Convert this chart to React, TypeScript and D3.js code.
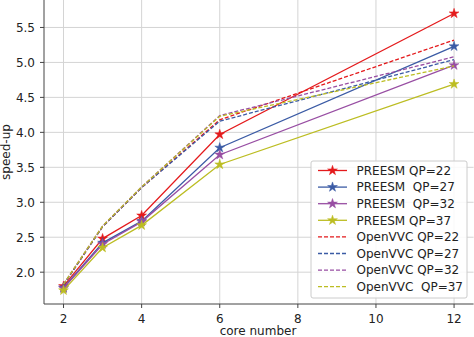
import React from "react";
import * as d3 from "d3";

const cores = [2, 3, 4, 6, 12];
const preesm22 = [1.80, 2.48, 2.81, 3.97, 5.70];
const preesm27 = [1.78, 2.42, 2.73, 3.78, 5.23];
const preesm32 = [1.77, 2.40, 2.72, 3.68, 4.96];
const preesm37 = [1.74, 2.35, 2.67, 3.54, 4.69];
const openvvc22 = [1.82, 2.65, 3.21, 4.18, 5.32];
const openvvc27 = [1.82, 2.65, 3.21, 4.16, 5.04];
const openvvc32 = [1.83, 2.66, 3.22, 4.24, 5.08];
const openvvc37 = [1.83, 2.66, 3.22, 4.23, 4.95];
const xTicks = [2, 4, 6, 8, 10, 12];
const yTicks = [2.0, 2.5, 3.0, 3.5, 4.0, 4.5, 5.0, 5.5];
const seriesNames = [
  "PREESM QP=22",
  "PREESM  QP=27",
  "PREESM  QP=32",
  "PREESM QP=37",
  "OpenVVC QP=22",
  "OpenVVC QP=27",
  "OpenVVC QP=32",
  "OpenVVC  QP=37",
];
const colors = ["#e41a1c", "#3b5ba5", "#984ea3", "#bcbd22"];

export default function App() {
  const W = 474, H = 337;
  const left = 44, right = 473.6, top = -0.5, bottom = 304;
  const x = d3.scaleLinear().domain([1.5, 12.5]).range([left, right]);
  const y = d3.scaleLinear().domain([1.545, 5.9]).range([bottom, top]);
  const line = d3.line<number>().x((_, i) => x(cores[i])).y((d) => y(d));
  const star = d3.symbol().type(d3.symbolStar).size(30)()!;
  const solid = [preesm22, preesm27, preesm32, preesm37];
  const dashed = [openvvc22, openvvc27, openvvc32, openvvc37];
  const font = "DejaVu Sans, sans-serif";
  const fs = 12;
  const lx = 311, ly = 161, lw = 156, lh = 137, rowH = 16.6;

  return (
    <svg width={W} height={H} style={{ position: "absolute", left: 0, top: 0, background: "#fff" }} fontFamily={font}>
      {xTicks.map((t) => (
        <line key={"gx" + t} x1={x(t)} x2={x(t)} y1={top} y2={bottom} stroke="#d4d4d4" strokeWidth={1} />
      ))}
      {yTicks.map((t) => (
        <line key={"gy" + t} x1={left} x2={right} y1={y(t)} y2={y(t)} stroke="#d4d4d4" strokeWidth={1} />
      ))}
      {solid.map((s, i) => (
        <g key={"s" + i}>
          <path d={line(s)!} fill="none" stroke={colors[i]} strokeWidth={1.3} />
          {s.map((v, j) => (
            <path key={j} d={star} transform={`translate(${x(cores[j])},${y(v)})`} fill={colors[i]} stroke={colors[i]} strokeWidth={0.5} />
          ))}
        </g>
      ))}
      {dashed.map((s, i) => (
        <path key={"d" + i} d={line(s)!} fill="none" stroke={colors[i]} strokeWidth={1.3} strokeDasharray="4,2" />
      ))}
      <line x1={left} x2={left} y1={top} y2={bottom} stroke="#444" strokeWidth={1} />
      <line x1={left} x2={right} y1={bottom} y2={bottom} stroke="#444" strokeWidth={1} />
      {xTicks.map((t) => (
        <g key={"tx" + t}>
          <line x1={x(t)} x2={x(t)} y1={bottom} y2={bottom + 4} stroke="#444" />
          <text x={x(t)} y={322.5} textAnchor="middle" fontSize={fs} fill="#222">{t}</text>
        </g>
      ))}
      {yTicks.map((t) => (
        <g key={"ty" + t}>
          <line x1={left - 4} x2={left} y1={y(t)} y2={y(t)} stroke="#444" />
          <text x={35} y={y(t)} dy="0.36em" textAnchor="end" fontSize={fs} fill="#222">{t.toFixed(1)}</text>
        </g>
      ))}
      <text x={258} y={335} textAnchor="middle" fontSize={fs} fill="#222">core number</text>
      <text transform={`translate(10,152) rotate(-90)`} textAnchor="middle" fontSize={fs} fill="#222">speed-up</text>
      <rect x={lx} y={ly} width={lw} height={lh} rx={2} fill="#fff" fillOpacity={0.85} stroke="#ccc" />
      {seriesNames.map((n, i) => {
        const cy = ly + 9.5 + i * rowH;
        const c = colors[i % 4];
        const isSolid = i < 4;
        return (
          <g key={"l" + i}>
            <line x1={318} x2={347} y1={cy} y2={cy} stroke={c} strokeWidth={1.3} strokeDasharray={isSolid ? undefined : "4,2"} />
            {isSolid && <path d={star} transform={`translate(332.5,${cy})`} fill={c} stroke={c} strokeWidth={0.5} />}
            <text x={356.5} y={cy} dy="0.36em" fontSize={fs} fill="#222" style={{ whiteSpace: "pre" }}>{n}</text>
          </g>
        );
      })}
    </svg>
  );
}
